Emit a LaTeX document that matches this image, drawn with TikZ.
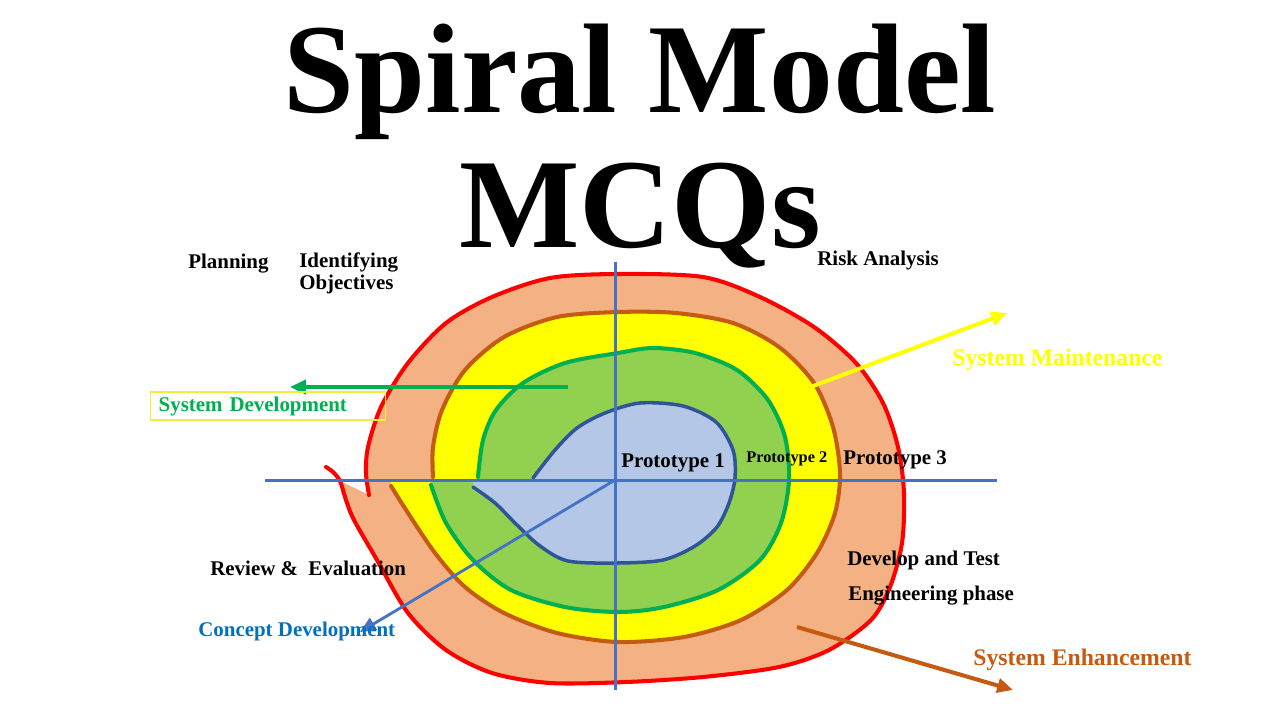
\documentclass[tikz,border=0pt]{standalone}
\usepackage{fontspec}
\setmainfont{Liberation Serif}
\definecolor{spsalmon}{RGB}{244,177,131}
\definecolor{spred}{RGB}{255,0,0}
\definecolor{spbrown}{RGB}{197,90,17}
\definecolor{spyellow}{RGB}{255,255,0}
\definecolor{spgreen}{RGB}{146,208,80}
\definecolor{spgreenline}{RGB}{0,176,80}
\definecolor{spblue}{RGB}{180,199,231}
\definecolor{spblueline}{RGB}{47,85,151}
\definecolor{spaxis}{RGB}{68,114,196}
\definecolor{spconcept}{RGB}{0,112,192}
\definecolor{spboxline}{RGB}{240,240,60}
\usetikzlibrary{arrows.meta}

\begin{document}
\begin{tikzpicture}[x=0.02cm, y=-0.02cm,
  titletext/.style={font=\fontsize{72.6}{74}\selectfont\bfseries, anchor=base, inner sep=0},
  lbl/.style={font=\fontsize{11.9}{12.5}\selectfont\bfseries, anchor=base west, inner sep=0, align=left},
  smlbl/.style={lbl, font=\fontsize{9.3}{11}\selectfont\bfseries},
  biglbl/.style={lbl, font=\fontsize{13.5}{15}\selectfont\bfseries},
  ring/.style={line width=2.3pt, line join=round, line cap=round},
  axisline/.style={draw=spaxis, line width=1.7pt},
  parr/.style={-{Triangle[length=9pt,width=8pt]}, line width=2pt}
]
\useasboundingbox[fill=white] (0,0) rectangle (1280,720);

% Title
\node[titletext] (t1) at (640,112) {Spiral Model};
\node[titletext] (t2) at (640,247) {MCQs};

% Fills
\fill[spsalmon] plot[smooth] coordinates {(340,481) (346,500) (354,520) (377,560) (408,613) (446,650) (492,673) (550,683) (626,682) (703,677) (779,667) (829,650) (871,620) (890,587) (902,543) (904,493) (898,447) (883,403) (856,363) (814,327) (760,297) (703,277) (618,274) (550,278) (492,297) (446,323) (408,363) (381,407) (368,447) (366,473) (369,495)} -- cycle;
\fill[spyellow] plot[smooth] coordinates {(391,486) (408,513) (435,553) (465,587) (504,613) (557,633) (618,642) (684,637) (741,620) (787,590) (817,553) (835,513) (840,473) (833,427) (814,383) (779,347) (733,323) (676,313) (618,312) (557,317) (504,337) (465,370) (442,410) (433,447) (433,477)} -- (433,482) -- (391,482) -- cycle;
\fill[spgreen] plot[smooth] coordinates {(431,485) (446,523) (473,560) (511,590) (565,607) (618,612) (664,607) (718,590) (760,560) (781,523) (789,480) (785,437) (768,400) (737,370) (695,353) (653,348) (618,353) (565,363) (523,383) (496,410) (483,440) (478,477)} -- (478,482) -- (431,482) -- cycle;
\fill[spblue] plot[smooth] coordinates {(473,487) (495,503) (517,525) (540,546) (568,561) (617,563) (663,560) (695,546) (717,527) (729,503) (735,478) (733,450) (716,422) (683,406) (640,403) (605,413) (577,428) (555,450) (533,478)} -- (533,482) -- (473,482) -- cycle;

% Spiral lines
\draw[ring, spred] plot[smooth] coordinates {(326,467) (333,472) (340,481) (346,500) (354,520) (377,560) (408,613) (446,650) (492,673) (550,683) (626,682) (703,677) (779,667) (829,650) (871,620) (890,587) (902,543) (904,493) (898,447) (883,403) (856,363) (814,327) (760,297) (703,277) (618,274) (550,278) (492,297) (446,323) (408,363) (381,407) (368,447) (366,473) (369,495)};
\draw[ring, spbrown] plot[smooth] coordinates {(391,486) (408,513) (435,553) (465,587) (504,613) (557,633) (618,642) (684,637) (741,620) (787,590) (817,553) (835,513) (840,473) (833,427) (814,383) (779,347) (733,323) (676,313) (618,312) (557,317) (504,337) (465,370) (442,410) (433,447) (433,477)};
\draw[ring, spgreenline] plot[smooth] coordinates {(431,485) (446,523) (473,560) (511,590) (565,607) (618,612) (664,607) (718,590) (760,560) (781,523) (789,480) (785,437) (768,400) (737,370) (695,353) (653,348) (618,353) (565,363) (523,383) (496,410) (483,440) (478,477)};
\draw[ring, spblueline, line width=2pt] plot[smooth] coordinates {(473,487) (495,503) (517,525) (540,546) (568,561) (617,563) (663,560) (695,546) (717,527) (729,503) (735,478) (733,450) (716,422) (683,406) (640,403) (605,413) (577,428) (555,450) (533,478)};

% Axes
\coordinate (origin) at (615,480);
\coordinate (axw) at (265,480);
\coordinate (axe) at (997,480);
\coordinate (axn) at (615,262);
\coordinate (axs) at (615,690);
\draw[axisline] (axw) -- (axe);
\draw[axisline] (axn) -- (axs);

% Arrows
\coordinate (devfrom) at (568,387);
\coordinate (devto) at (290,387);
\coordinate (mntfrom) at (808,388);
\coordinate (mntto) at (1007,313);
\coordinate (cptto) at (360,632);
\coordinate (enhfrom) at (797,627);
\coordinate (enhto) at (1013,690);
\draw[parr, spgreenline, line width=1.9pt] (devfrom) -- (devto);
\draw[parr, spyellow, line width=2.3pt] (mntfrom) -- (mntto);
\draw[parr, spaxis, line width=1.6pt] (origin) -- (cptto);
\draw[parr, spbrown, line width=2.3pt] (enhfrom) -- (enhto);

% Labels
\node[lbl] (plan) at (188,268) {Planning};
\node[lbl, anchor=north west] (obj) at (299,252.5) {Identifying\\Objectives};
\node[lbl] (risk) at (817,265) {Risk Analysis};
\node[biglbl, text=spyellow] (maint) at (952,365) {System Maintenance};
\node[lbl, anchor=west, draw=spboxline, line width=0.85pt, text=spgreenline,
      inner xsep=0.16cm, inner ysep=0pt, minimum height=0.56cm, text width=4.38cm] (sysdev) at (150,406) {System Development};
\node[lbl] (proto1) at (621,467) {Prototype 1};
\node[smlbl] (proto2) at (746,462) {Prototype 2};
\node[lbl] (proto3) at (843,464) {Prototype 3};
\node[lbl] (review) at (210,575) {Review~\&~~Evaluation};
\node[lbl, text=spconcept] (concept) at (198,636) {Concept Development};
\node[lbl] (devtest) at (847,565) {Develop and Test};
\node[lbl] (engph) at (848,600) {Engineering phase};
\node[biglbl, text=spbrown] (enh) at (973,665) {System Enhancement};
\end{tikzpicture}
\end{document}
